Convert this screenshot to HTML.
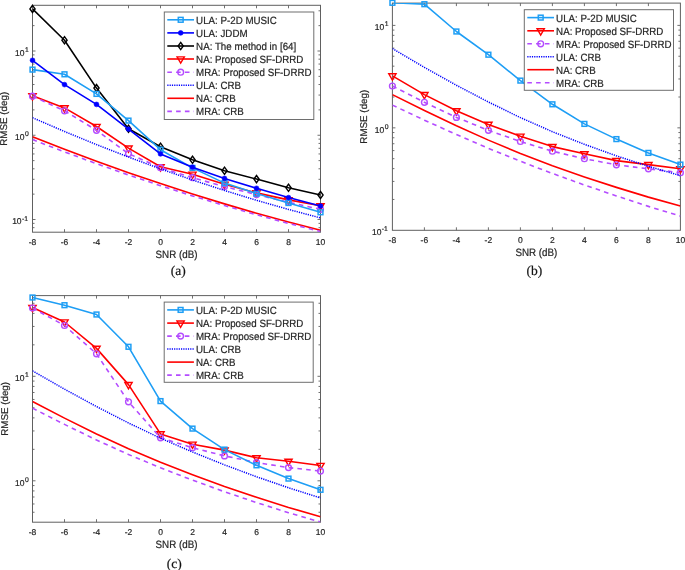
<!DOCTYPE html>
<html><head><meta charset="utf-8"><style>
html,body{margin:0;padding:0;background:#fff;}
svg{display:block;}
text{font-family:"Liberation Sans",Arial,sans-serif;fill:#262626;stroke:#262626;stroke-width:0.2px;text-rendering:geometricPrecision;}
.tk{font-size:8.5px;}
.sup{font-size:6.8px;}
.lab{font-size:9.8px;}
.lg{font-size:9.75px;}
.cap{font-family:"Liberation Serif","Times New Roman",serif;font-size:13.5px;fill:#111;}
</style></head><body>
<svg width="685" height="570" viewBox="0 0 685 570">
<rect width="685" height="570" fill="#fff"/>
<clipPath id="ca"><rect x="32.5" y="5.3" width="288" height="226.9"/></clipPath>
<rect x="32.5" y="5.3" width="288" height="226.9" fill="none" stroke="#606060" stroke-width="1.0"/>
<path d="M64.5 232.2v-3M64.5 5.3v3M96.5 232.2v-3M96.5 5.3v3M128.5 232.2v-3M128.5 5.3v3M160.5 232.2v-3M160.5 5.3v3M192.5 232.2v-3M192.5 5.3v3M224.5 232.2v-3M224.5 5.3v3M256.5 232.2v-3M256.5 5.3v3M288.5 232.2v-3M288.5 5.3v3M32.5 227.66h2M320.5 227.66h-2M32.5 223.36h2M320.5 223.36h-2M32.5 219.5h3M320.5 219.5h-3M32.5 194.14h2M320.5 194.14h-2M32.5 179.3h2M320.5 179.3h-2M32.5 168.78h2M320.5 168.78h-2M32.5 160.61h2M320.5 160.61h-2M32.5 153.94h2M320.5 153.94h-2M32.5 148.3h2M320.5 148.3h-2M32.5 143.41h2M320.5 143.41h-2M32.5 139.11h2M320.5 139.11h-2M32.5 135.25h3M320.5 135.25h-3M32.5 109.89h2M320.5 109.89h-2M32.5 95.05h2M320.5 95.05h-2M32.5 84.53h2M320.5 84.53h-2M32.5 76.36h2M320.5 76.36h-2M32.5 69.69h2M320.5 69.69h-2M32.5 64.05h2M320.5 64.05h-2M32.5 59.16h2M320.5 59.16h-2M32.5 54.86h2M320.5 54.86h-2M32.5 51h3M320.5 51h-3M32.5 25.64h2M320.5 25.64h-2M32.5 10.8h2M320.5 10.8h-2" stroke="#606060" stroke-width="0.9" fill="none"/>
<polyline clip-path="url(#ca)" fill="none" stroke-linejoin="round" points="32.5,95.8 64.5,107.9 96.5,126.5 128.5,148.1 160.5,166.8 192.5,174.2 224.5,184.3 256.5,192.9 288.5,199.9 320.5,205.8" stroke="#ff0000" stroke-width="1.6"/>
<path d="M28.86 93.7L36.14 93.7L32.5 100Z" fill="none" stroke="#ff0000" stroke-width="1.4" stroke-linejoin="miter"/>
<path d="M60.86 105.8L68.14 105.8L64.5 112.1Z" fill="none" stroke="#ff0000" stroke-width="1.4" stroke-linejoin="miter"/>
<path d="M92.86 124.4L100.14 124.4L96.5 130.7Z" fill="none" stroke="#ff0000" stroke-width="1.4" stroke-linejoin="miter"/>
<path d="M124.86 146L132.14 146L128.5 152.3Z" fill="none" stroke="#ff0000" stroke-width="1.4" stroke-linejoin="miter"/>
<path d="M156.86 164.7L164.14 164.7L160.5 171Z" fill="none" stroke="#ff0000" stroke-width="1.4" stroke-linejoin="miter"/>
<path d="M188.86 172.1L196.14 172.1L192.5 178.4Z" fill="none" stroke="#ff0000" stroke-width="1.4" stroke-linejoin="miter"/>
<path d="M220.86 182.2L228.14 182.2L224.5 188.5Z" fill="none" stroke="#ff0000" stroke-width="1.4" stroke-linejoin="miter"/>
<path d="M252.86 190.8L260.14 190.8L256.5 197.1Z" fill="none" stroke="#ff0000" stroke-width="1.4" stroke-linejoin="miter"/>
<path d="M284.86 197.8L292.14 197.8L288.5 204.1Z" fill="none" stroke="#ff0000" stroke-width="1.4" stroke-linejoin="miter"/>
<path d="M316.86 203.7L324.14 203.7L320.5 210Z" fill="none" stroke="#ff0000" stroke-width="1.4" stroke-linejoin="miter"/>
<polyline clip-path="url(#ca)" fill="none" stroke-linejoin="round" points="32.5,96.2 64.5,110.8 96.5,130.3 128.5,153.7 160.5,167.7 192.5,177.7 224.5,186.6 256.5,194.6 288.5,202.3 320.5,209.3" stroke="#b44cff" stroke-width="1.6" stroke-dasharray="4.6 4.2"/>
<circle cx="32.5" cy="96.2" r="2.9" fill="none" stroke="#b44cff" stroke-width="1.4"/>
<circle cx="64.5" cy="110.8" r="2.9" fill="none" stroke="#b44cff" stroke-width="1.4"/>
<circle cx="96.5" cy="130.3" r="2.9" fill="none" stroke="#b44cff" stroke-width="1.4"/>
<circle cx="128.5" cy="153.7" r="2.9" fill="none" stroke="#b44cff" stroke-width="1.4"/>
<circle cx="160.5" cy="167.7" r="2.9" fill="none" stroke="#b44cff" stroke-width="1.4"/>
<circle cx="192.5" cy="177.7" r="2.9" fill="none" stroke="#b44cff" stroke-width="1.4"/>
<circle cx="224.5" cy="186.6" r="2.9" fill="none" stroke="#b44cff" stroke-width="1.4"/>
<circle cx="256.5" cy="194.6" r="2.9" fill="none" stroke="#b44cff" stroke-width="1.4"/>
<circle cx="288.5" cy="202.3" r="2.9" fill="none" stroke="#b44cff" stroke-width="1.4"/>
<circle cx="320.5" cy="209.3" r="2.9" fill="none" stroke="#b44cff" stroke-width="1.4"/>
<polyline clip-path="url(#ca)" fill="none" stroke-linejoin="round" points="32.5,8.9 64.5,40.2 96.5,88.1 128.5,128.7 160.5,146.7 192.5,159.8 224.5,170.7 256.5,179.1 288.5,187.8 320.5,195" stroke="#000000" stroke-width="1.6"/>
<path d="M32.5 5.3L35.1 8.9L32.5 12.5L29.9 8.9Z" fill="none" stroke="#000000" stroke-width="1.4"/>
<path d="M64.5 36.6L67.1 40.2L64.5 43.8L61.9 40.2Z" fill="none" stroke="#000000" stroke-width="1.4"/>
<path d="M96.5 84.5L99.1 88.1L96.5 91.7L93.9 88.1Z" fill="none" stroke="#000000" stroke-width="1.4"/>
<path d="M128.5 125.1L131.1 128.7L128.5 132.3L125.9 128.7Z" fill="none" stroke="#000000" stroke-width="1.4"/>
<path d="M160.5 143.1L163.1 146.7L160.5 150.3L157.9 146.7Z" fill="none" stroke="#000000" stroke-width="1.4"/>
<path d="M192.5 156.2L195.1 159.8L192.5 163.4L189.9 159.8Z" fill="none" stroke="#000000" stroke-width="1.4"/>
<path d="M224.5 167.1L227.1 170.7L224.5 174.3L221.9 170.7Z" fill="none" stroke="#000000" stroke-width="1.4"/>
<path d="M256.5 175.5L259.1 179.1L256.5 182.7L253.9 179.1Z" fill="none" stroke="#000000" stroke-width="1.4"/>
<path d="M288.5 184.2L291.1 187.8L288.5 191.4L285.9 187.8Z" fill="none" stroke="#000000" stroke-width="1.4"/>
<path d="M320.5 191.4L323.1 195L320.5 198.6L317.9 195Z" fill="none" stroke="#000000" stroke-width="1.4"/>
<polyline clip-path="url(#ca)" fill="none" stroke-linejoin="round" points="32.5,69.6 64.5,74.3 96.5,93.9 128.5,120.6 160.5,149.7 192.5,167.9 224.5,183.1 256.5,193.6 288.5,203 320.5,212.3" stroke="#1e9ef5" stroke-width="1.6"/>
<rect x="30.1" y="67.2" width="4.8" height="4.8" fill="none" stroke="#1e9ef5" stroke-width="1.5"/>
<rect x="62.1" y="71.9" width="4.8" height="4.8" fill="none" stroke="#1e9ef5" stroke-width="1.5"/>
<rect x="94.1" y="91.5" width="4.8" height="4.8" fill="none" stroke="#1e9ef5" stroke-width="1.5"/>
<rect x="126.1" y="118.2" width="4.8" height="4.8" fill="none" stroke="#1e9ef5" stroke-width="1.5"/>
<rect x="158.1" y="147.3" width="4.8" height="4.8" fill="none" stroke="#1e9ef5" stroke-width="1.5"/>
<rect x="190.1" y="165.5" width="4.8" height="4.8" fill="none" stroke="#1e9ef5" stroke-width="1.5"/>
<rect x="222.1" y="180.7" width="4.8" height="4.8" fill="none" stroke="#1e9ef5" stroke-width="1.5"/>
<rect x="254.1" y="191.2" width="4.8" height="4.8" fill="none" stroke="#1e9ef5" stroke-width="1.5"/>
<rect x="286.1" y="200.6" width="4.8" height="4.8" fill="none" stroke="#1e9ef5" stroke-width="1.5"/>
<rect x="318.1" y="209.9" width="4.8" height="4.8" fill="none" stroke="#1e9ef5" stroke-width="1.5"/>
<polyline clip-path="url(#ca)" fill="none" stroke-linejoin="round" points="32.5,60.3 64.5,84.6 96.5,104.4 128.5,129.2 160.5,153.9 192.5,167.2 224.5,178.4 256.5,188.3 288.5,197.6 320.5,206" stroke="#0000ff" stroke-width="1.6"/>
<circle cx="32.5" cy="60.3" r="2.4" fill="#0000ff" stroke="#0000ff" stroke-width="0.6"/>
<circle cx="64.5" cy="84.6" r="2.4" fill="#0000ff" stroke="#0000ff" stroke-width="0.6"/>
<circle cx="96.5" cy="104.4" r="2.4" fill="#0000ff" stroke="#0000ff" stroke-width="0.6"/>
<circle cx="128.5" cy="129.2" r="2.4" fill="#0000ff" stroke="#0000ff" stroke-width="0.6"/>
<circle cx="160.5" cy="153.9" r="2.4" fill="#0000ff" stroke="#0000ff" stroke-width="0.6"/>
<circle cx="192.5" cy="167.2" r="2.4" fill="#0000ff" stroke="#0000ff" stroke-width="0.6"/>
<circle cx="224.5" cy="178.4" r="2.4" fill="#0000ff" stroke="#0000ff" stroke-width="0.6"/>
<circle cx="256.5" cy="188.3" r="2.4" fill="#0000ff" stroke="#0000ff" stroke-width="0.6"/>
<circle cx="288.5" cy="197.6" r="2.4" fill="#0000ff" stroke="#0000ff" stroke-width="0.6"/>
<circle cx="320.5" cy="206" r="2.4" fill="#0000ff" stroke="#0000ff" stroke-width="0.6"/>
<polyline clip-path="url(#ca)" fill="none" stroke-linejoin="round" points="32.5,117.7 64.5,131.49 96.5,144.61 128.5,157.07 160.5,168.87 192.5,180.01 224.5,190.48 256.5,200.29 288.5,209.43 320.5,217.91" stroke="#0000ff" stroke-width="1.5" stroke-dasharray="1.2 1.1"/>
<polyline clip-path="url(#ca)" fill="none" stroke-linejoin="round" points="32.5,136.8 64.5,149.29 96.5,161.25 128.5,172.69 160.5,183.61 192.5,194 224.5,203.87 256.5,213.21 288.5,222.03 320.5,230.33" stroke="#ff0000" stroke-width="1.6"/>
<polyline clip-path="url(#ca)" fill="none" stroke-linejoin="round" points="32.5,139.6 64.5,151.91 96.5,163.69 128.5,174.95 160.5,185.69 192.5,195.9 224.5,205.59 256.5,214.75 288.5,223.39 320.5,231.51" stroke="#b44cff" stroke-width="1.6" stroke-dasharray="4.6 4.2"/>
<text x="32.5" y="244.8" text-anchor="middle" class="tk">-8</text>
<text x="64.5" y="244.8" text-anchor="middle" class="tk">-6</text>
<text x="96.5" y="244.8" text-anchor="middle" class="tk">-4</text>
<text x="128.5" y="244.8" text-anchor="middle" class="tk">-2</text>
<text x="160.5" y="244.8" text-anchor="middle" class="tk">0</text>
<text x="192.5" y="244.8" text-anchor="middle" class="tk">2</text>
<text x="224.5" y="244.8" text-anchor="middle" class="tk">4</text>
<text x="256.5" y="244.8" text-anchor="middle" class="tk">6</text>
<text x="288.5" y="244.8" text-anchor="middle" class="tk">8</text>
<text x="320.5" y="244.8" text-anchor="middle" class="tk">10</text>
<text x="24.4" y="56" text-anchor="end" class="tk">10</text>
<text x="24.9" y="51.8" class="sup">1</text>
<text x="24.4" y="140.25" text-anchor="end" class="tk">10</text>
<text x="24.9" y="136.05" class="sup">0</text>
<text x="21.6" y="224.3" text-anchor="end" class="tk">10</text>
<text x="21.9" y="220.6" class="sup">-1</text>
<text transform="translate(176.5,257.8) scale(1,1.08)" text-anchor="middle" class="lab">SNR (dB)</text>
<text transform="translate(7.2,118.75) rotate(-90)" text-anchor="middle" class="lab">RMSE (deg)</text>
<text x="178.35" y="274.5" text-anchor="middle" class="cap">(a)</text>
<rect x="164.3" y="12" width="149.5" height="107.5" fill="#fff" stroke="#6e6e6e" stroke-width="1.0"/>
<line x1="167.3" y1="19.8" x2="194" y2="19.8" stroke="#1e9ef5" stroke-width="1.6" fill="none"/>
<rect x="178.3" y="17.4" width="4.8" height="4.8" fill="none" stroke="#1e9ef5" stroke-width="1.5"/>
<text transform="translate(196.1,23.75) scale(1,1.08)" class="lg">ULA: P-2D MUSIC</text>
<line x1="167.3" y1="32.9" x2="194" y2="32.9" stroke="#0000ff" stroke-width="1.6" fill="none"/>
<circle cx="180.7" cy="32.9" r="2.4" fill="#0000ff" stroke="#0000ff" stroke-width="0.6"/>
<text transform="translate(196.1,36.85) scale(1,1.08)" class="lg">ULA: JDDM</text>
<line x1="167.3" y1="46" x2="194" y2="46" stroke="#000000" stroke-width="1.6" fill="none"/>
<path d="M180.7 42.4L183.3 46L180.7 49.6L178.1 46Z" fill="none" stroke="#000000" stroke-width="1.4"/>
<text transform="translate(196.1,49.95) scale(1,1.08)" class="lg">NA: The method in [64]</text>
<line x1="167.3" y1="59" x2="194" y2="59" stroke="#ff0000" stroke-width="1.6" fill="none"/>
<path d="M177.06 56.9L184.34 56.9L180.7 63.2Z" fill="none" stroke="#ff0000" stroke-width="1.4" stroke-linejoin="miter"/>
<text transform="translate(196.1,62.95) scale(1,1.08)" class="lg">NA: Proposed SF-DRRD</text>
<line x1="167.3" y1="72.2" x2="194" y2="72.2" stroke="#b44cff" stroke-width="1.6" stroke-dasharray="4.6 4.2" fill="none"/>
<circle cx="180.7" cy="72.2" r="2.9" fill="none" stroke="#b44cff" stroke-width="1.4"/>
<text transform="translate(196.1,76.15) scale(1,1.08)" class="lg">MRA: Proposed SF-DRRD</text>
<line x1="167.3" y1="85.2" x2="194" y2="85.2" stroke="#0000ff" stroke-width="1.5" stroke-dasharray="1.2 1.1" fill="none"/>

<text transform="translate(196.1,89.15) scale(1,1.08)" class="lg">ULA: CRB</text>
<line x1="167.3" y1="98.3" x2="194" y2="98.3" stroke="#ff0000" stroke-width="1.6" fill="none"/>

<text transform="translate(196.1,102.25) scale(1,1.08)" class="lg">NA: CRB</text>
<line x1="167.3" y1="111.4" x2="194" y2="111.4" stroke="#b44cff" stroke-width="1.6" stroke-dasharray="4.6 4.2" fill="none"/>

<text transform="translate(196.1,115.35) scale(1,1.08)" class="lg">MRA: CRB</text>
<clipPath id="cb"><rect x="392.4" y="3.1" width="288" height="227.2"/></clipPath>
<rect x="392.4" y="3.1" width="288" height="227.2" fill="none" stroke="#606060" stroke-width="1.0"/>
<path d="M424.4 230.3v-3M424.4 3.1v3M456.4 230.3v-3M456.4 3.1v3M488.4 230.3v-3M488.4 3.1v3M520.4 230.3v-3M520.4 3.1v3M552.4 230.3v-3M552.4 3.1v3M584.4 230.3v-3M584.4 3.1v3M616.4 230.3v-3M616.4 3.1v3M648.4 230.3v-3M648.4 3.1v3M392.4 199.46h2M680.4 199.46h-2M392.4 181.42h2M680.4 181.42h-2M392.4 168.62h2M680.4 168.62h-2M392.4 158.69h2M680.4 158.69h-2M392.4 150.58h2M680.4 150.58h-2M392.4 143.72h2M680.4 143.72h-2M392.4 137.78h2M680.4 137.78h-2M392.4 132.54h2M680.4 132.54h-2M392.4 127.85h3M680.4 127.85h-3M392.4 97.01h2M680.4 97.01h-2M392.4 78.97h2M680.4 78.97h-2M392.4 66.17h2M680.4 66.17h-2M392.4 56.24h2M680.4 56.24h-2M392.4 48.13h2M680.4 48.13h-2M392.4 41.27h2M680.4 41.27h-2M392.4 35.33h2M680.4 35.33h-2M392.4 30.09h2M680.4 30.09h-2M392.4 25.4h3M680.4 25.4h-3" stroke="#606060" stroke-width="0.9" fill="none"/>
<polyline clip-path="url(#cb)" fill="none" stroke-linejoin="round" points="392.4,75.9 424.4,94.6 456.4,110.8 488.4,124.4 520.4,136.2 552.4,146.6 584.4,153.8 616.4,160.6 648.4,164.6 680.4,168.8" stroke="#ff0000" stroke-width="1.6"/>
<path d="M388.76 73.8L396.04 73.8L392.4 80.1Z" fill="none" stroke="#ff0000" stroke-width="1.4" stroke-linejoin="miter"/>
<path d="M420.76 92.5L428.04 92.5L424.4 98.8Z" fill="none" stroke="#ff0000" stroke-width="1.4" stroke-linejoin="miter"/>
<path d="M452.76 108.7L460.04 108.7L456.4 115Z" fill="none" stroke="#ff0000" stroke-width="1.4" stroke-linejoin="miter"/>
<path d="M484.76 122.3L492.04 122.3L488.4 128.6Z" fill="none" stroke="#ff0000" stroke-width="1.4" stroke-linejoin="miter"/>
<path d="M516.76 134.1L524.04 134.1L520.4 140.4Z" fill="none" stroke="#ff0000" stroke-width="1.4" stroke-linejoin="miter"/>
<path d="M548.76 144.5L556.04 144.5L552.4 150.8Z" fill="none" stroke="#ff0000" stroke-width="1.4" stroke-linejoin="miter"/>
<path d="M580.76 151.7L588.04 151.7L584.4 158Z" fill="none" stroke="#ff0000" stroke-width="1.4" stroke-linejoin="miter"/>
<path d="M612.76 158.5L620.04 158.5L616.4 164.8Z" fill="none" stroke="#ff0000" stroke-width="1.4" stroke-linejoin="miter"/>
<path d="M644.76 162.5L652.04 162.5L648.4 168.8Z" fill="none" stroke="#ff0000" stroke-width="1.4" stroke-linejoin="miter"/>
<path d="M676.76 166.7L684.04 166.7L680.4 173Z" fill="none" stroke="#ff0000" stroke-width="1.4" stroke-linejoin="miter"/>
<polyline clip-path="url(#cb)" fill="none" stroke-linejoin="round" points="392.4,86 424.4,102.3 456.4,117.4 488.4,130.3 520.4,141.5 552.4,151.2 584.4,158.7 616.4,164.8 648.4,168.8 680.4,172.7" stroke="#b44cff" stroke-width="1.6" stroke-dasharray="4.6 4.2"/>
<circle cx="392.4" cy="86" r="2.9" fill="none" stroke="#b44cff" stroke-width="1.4"/>
<circle cx="424.4" cy="102.3" r="2.9" fill="none" stroke="#b44cff" stroke-width="1.4"/>
<circle cx="456.4" cy="117.4" r="2.9" fill="none" stroke="#b44cff" stroke-width="1.4"/>
<circle cx="488.4" cy="130.3" r="2.9" fill="none" stroke="#b44cff" stroke-width="1.4"/>
<circle cx="520.4" cy="141.5" r="2.9" fill="none" stroke="#b44cff" stroke-width="1.4"/>
<circle cx="552.4" cy="151.2" r="2.9" fill="none" stroke="#b44cff" stroke-width="1.4"/>
<circle cx="584.4" cy="158.7" r="2.9" fill="none" stroke="#b44cff" stroke-width="1.4"/>
<circle cx="616.4" cy="164.8" r="2.9" fill="none" stroke="#b44cff" stroke-width="1.4"/>
<circle cx="648.4" cy="168.8" r="2.9" fill="none" stroke="#b44cff" stroke-width="1.4"/>
<circle cx="680.4" cy="172.7" r="2.9" fill="none" stroke="#b44cff" stroke-width="1.4"/>
<polyline clip-path="url(#cb)" fill="none" stroke-linejoin="round" points="392.4,2.8 424.4,4.2 456.4,31.5 488.4,54.7 520.4,80.6 552.4,104.3 584.4,123.9 616.4,139.1 648.4,152.9 680.4,164.6" stroke="#1e9ef5" stroke-width="1.6"/>
<rect x="390" y="0.4" width="4.8" height="4.8" fill="none" stroke="#1e9ef5" stroke-width="1.5"/>
<rect x="422" y="1.8" width="4.8" height="4.8" fill="none" stroke="#1e9ef5" stroke-width="1.5"/>
<rect x="454" y="29.1" width="4.8" height="4.8" fill="none" stroke="#1e9ef5" stroke-width="1.5"/>
<rect x="486" y="52.3" width="4.8" height="4.8" fill="none" stroke="#1e9ef5" stroke-width="1.5"/>
<rect x="518" y="78.2" width="4.8" height="4.8" fill="none" stroke="#1e9ef5" stroke-width="1.5"/>
<rect x="550" y="101.9" width="4.8" height="4.8" fill="none" stroke="#1e9ef5" stroke-width="1.5"/>
<rect x="582" y="121.5" width="4.8" height="4.8" fill="none" stroke="#1e9ef5" stroke-width="1.5"/>
<rect x="614" y="136.7" width="4.8" height="4.8" fill="none" stroke="#1e9ef5" stroke-width="1.5"/>
<rect x="646" y="150.5" width="4.8" height="4.8" fill="none" stroke="#1e9ef5" stroke-width="1.5"/>
<rect x="678" y="162.2" width="4.8" height="4.8" fill="none" stroke="#1e9ef5" stroke-width="1.5"/>
<polyline clip-path="url(#cb)" fill="none" stroke-linejoin="round" points="392.4,48.56 424.4,67.39 456.4,85.24 488.4,102.01 520.4,117.59 552.4,131.69 584.4,144.31 616.4,155.84 648.4,166.29 680.4,175.66" stroke="#0000ff" stroke-width="1.5" stroke-dasharray="1.2 1.1"/>
<polyline clip-path="url(#cb)" fill="none" stroke-linejoin="round" points="392.4,94.61 424.4,110.58 456.4,125.79 488.4,140.13 520.4,153.41 552.4,165.63 584.4,176.89 616.4,187.38 648.4,197.11 680.4,206.07" stroke="#ff0000" stroke-width="1.6"/>
<polyline clip-path="url(#cb)" fill="none" stroke-linejoin="round" points="392.4,105.12 424.4,120.17 456.4,134.56 488.4,148.29 520.4,161.25 552.4,173.45 584.4,184.99 616.4,195.96 648.4,206.38 680.4,216.12" stroke="#b44cff" stroke-width="1.6" stroke-dasharray="4.6 4.2"/>
<text x="392.4" y="242.9" text-anchor="middle" class="tk">-8</text>
<text x="424.4" y="242.9" text-anchor="middle" class="tk">-6</text>
<text x="456.4" y="242.9" text-anchor="middle" class="tk">-4</text>
<text x="488.4" y="242.9" text-anchor="middle" class="tk">-2</text>
<text x="520.4" y="242.9" text-anchor="middle" class="tk">0</text>
<text x="552.4" y="242.9" text-anchor="middle" class="tk">2</text>
<text x="584.4" y="242.9" text-anchor="middle" class="tk">4</text>
<text x="616.4" y="242.9" text-anchor="middle" class="tk">6</text>
<text x="648.4" y="242.9" text-anchor="middle" class="tk">8</text>
<text x="680.4" y="242.9" text-anchor="middle" class="tk">10</text>
<text x="384.3" y="30.4" text-anchor="end" class="tk">10</text>
<text x="384.8" y="26.2" class="sup">1</text>
<text x="384.3" y="132.85" text-anchor="end" class="tk">10</text>
<text x="384.8" y="128.65" class="sup">0</text>
<text x="381.5" y="235.1" text-anchor="end" class="tk">10</text>
<text x="381.8" y="231.4" class="sup">-1</text>
<text transform="translate(536.4,255.9) scale(1,1.08)" text-anchor="middle" class="lab">SNR (dB)</text>
<text transform="translate(367.1,116.7) rotate(-90)" text-anchor="middle" class="lab">RMSE (deg)</text>
<text x="534.3" y="275" text-anchor="middle" class="cap">(b)</text>
<rect x="524.3" y="9.7" width="149.2" height="80.6" fill="#fff" stroke="#6e6e6e" stroke-width="1.0"/>
<line x1="527.3" y1="17.6" x2="554" y2="17.6" stroke="#1e9ef5" stroke-width="1.6" fill="none"/>
<rect x="538.3" y="15.2" width="4.8" height="4.8" fill="none" stroke="#1e9ef5" stroke-width="1.5"/>
<text transform="translate(556.1,21.55) scale(1,1.08)" class="lg">ULA: P-2D MUSIC</text>
<line x1="527.3" y1="30.8" x2="554" y2="30.8" stroke="#ff0000" stroke-width="1.6" fill="none"/>
<path d="M537.06 28.7L544.34 28.7L540.7 35Z" fill="none" stroke="#ff0000" stroke-width="1.4" stroke-linejoin="miter"/>
<text transform="translate(556.1,34.75) scale(1,1.08)" class="lg">NA: Proposed SF-DRRD</text>
<line x1="527.3" y1="43.8" x2="554" y2="43.8" stroke="#b44cff" stroke-width="1.6" stroke-dasharray="4.6 4.2" fill="none"/>
<circle cx="540.7" cy="43.8" r="2.9" fill="none" stroke="#b44cff" stroke-width="1.4"/>
<text transform="translate(556.1,47.75) scale(1,1.08)" class="lg">MRA: Proposed SF-DRRD</text>
<line x1="527.3" y1="56.8" x2="554" y2="56.8" stroke="#0000ff" stroke-width="1.5" stroke-dasharray="1.2 1.1" fill="none"/>

<text transform="translate(556.1,60.75) scale(1,1.08)" class="lg">ULA: CRB</text>
<line x1="527.3" y1="69.7" x2="554" y2="69.7" stroke="#ff0000" stroke-width="1.6" fill="none"/>

<text transform="translate(556.1,73.65) scale(1,1.08)" class="lg">NA: CRB</text>
<line x1="527.3" y1="82.7" x2="554" y2="82.7" stroke="#b44cff" stroke-width="1.6" stroke-dasharray="4.6 4.2" fill="none"/>

<text transform="translate(556.1,86.65) scale(1,1.08)" class="lg">MRA: CRB</text>
<clipPath id="cc"><rect x="32.5" y="295.6" width="288" height="226.6"/></clipPath>
<rect x="32.5" y="295.6" width="288" height="226.6" fill="none" stroke="#606060" stroke-width="1.0"/>
<path d="M64.5 522.2v-3M64.5 295.6v3M96.5 522.2v-3M96.5 295.6v3M128.5 522.2v-3M128.5 295.6v3M160.5 522.2v-3M160.5 295.6v3M192.5 522.2v-3M192.5 295.6v3M224.5 522.2v-3M224.5 295.6v3M256.5 522.2v-3M256.5 295.6v3M288.5 522.2v-3M288.5 295.6v3M32.5 512.26h2M320.5 512.26h-2M32.5 503.98h2M320.5 503.98h-2M32.5 496.99h2M320.5 496.99h-2M32.5 490.93h2M320.5 490.93h-2M32.5 485.58h2M320.5 485.58h-2M32.5 480.8h3M320.5 480.8h-3M32.5 449.34h2M320.5 449.34h-2M32.5 430.94h2M320.5 430.94h-2M32.5 417.88h2M320.5 417.88h-2M32.5 407.76h2M320.5 407.76h-2M32.5 399.48h2M320.5 399.48h-2M32.5 392.49h2M320.5 392.49h-2M32.5 386.43h2M320.5 386.43h-2M32.5 381.08h2M320.5 381.08h-2M32.5 376.3h3M320.5 376.3h-3M32.5 344.84h2M320.5 344.84h-2M32.5 326.44h2M320.5 326.44h-2M32.5 313.38h2M320.5 313.38h-2M32.5 303.26h2M320.5 303.26h-2" stroke="#606060" stroke-width="0.9" fill="none"/>
<polyline clip-path="url(#cc)" fill="none" stroke-linejoin="round" points="32.5,307.5 64.5,322 96.5,348.4 128.5,384.6 160.5,433.9 192.5,444.2 224.5,450.1 256.5,457.8 288.5,461.3 320.5,465.5" stroke="#ff0000" stroke-width="1.6"/>
<path d="M28.86 305.4L36.14 305.4L32.5 311.7Z" fill="none" stroke="#ff0000" stroke-width="1.4" stroke-linejoin="miter"/>
<path d="M60.86 319.9L68.14 319.9L64.5 326.2Z" fill="none" stroke="#ff0000" stroke-width="1.4" stroke-linejoin="miter"/>
<path d="M92.86 346.3L100.14 346.3L96.5 352.6Z" fill="none" stroke="#ff0000" stroke-width="1.4" stroke-linejoin="miter"/>
<path d="M124.86 382.5L132.14 382.5L128.5 388.8Z" fill="none" stroke="#ff0000" stroke-width="1.4" stroke-linejoin="miter"/>
<path d="M156.86 431.8L164.14 431.8L160.5 438.1Z" fill="none" stroke="#ff0000" stroke-width="1.4" stroke-linejoin="miter"/>
<path d="M188.86 442.1L196.14 442.1L192.5 448.4Z" fill="none" stroke="#ff0000" stroke-width="1.4" stroke-linejoin="miter"/>
<path d="M220.86 448L228.14 448L224.5 454.3Z" fill="none" stroke="#ff0000" stroke-width="1.4" stroke-linejoin="miter"/>
<path d="M252.86 455.7L260.14 455.7L256.5 462Z" fill="none" stroke="#ff0000" stroke-width="1.4" stroke-linejoin="miter"/>
<path d="M284.86 459.2L292.14 459.2L288.5 465.5Z" fill="none" stroke="#ff0000" stroke-width="1.4" stroke-linejoin="miter"/>
<path d="M316.86 463.4L324.14 463.4L320.5 469.7Z" fill="none" stroke="#ff0000" stroke-width="1.4" stroke-linejoin="miter"/>
<polyline clip-path="url(#cc)" fill="none" stroke-linejoin="round" points="32.5,308 64.5,325.5 96.5,353.8 128.5,401.8 160.5,437.8 192.5,447.7 224.5,455.9 256.5,462.5 288.5,467.6 320.5,471.1" stroke="#b44cff" stroke-width="1.6" stroke-dasharray="4.6 4.2"/>
<circle cx="32.5" cy="308" r="2.9" fill="none" stroke="#b44cff" stroke-width="1.4"/>
<circle cx="64.5" cy="325.5" r="2.9" fill="none" stroke="#b44cff" stroke-width="1.4"/>
<circle cx="96.5" cy="353.8" r="2.9" fill="none" stroke="#b44cff" stroke-width="1.4"/>
<circle cx="128.5" cy="401.8" r="2.9" fill="none" stroke="#b44cff" stroke-width="1.4"/>
<circle cx="160.5" cy="437.8" r="2.9" fill="none" stroke="#b44cff" stroke-width="1.4"/>
<circle cx="192.5" cy="447.7" r="2.9" fill="none" stroke="#b44cff" stroke-width="1.4"/>
<circle cx="224.5" cy="455.9" r="2.9" fill="none" stroke="#b44cff" stroke-width="1.4"/>
<circle cx="256.5" cy="462.5" r="2.9" fill="none" stroke="#b44cff" stroke-width="1.4"/>
<circle cx="288.5" cy="467.6" r="2.9" fill="none" stroke="#b44cff" stroke-width="1.4"/>
<circle cx="320.5" cy="471.1" r="2.9" fill="none" stroke="#b44cff" stroke-width="1.4"/>
<polyline clip-path="url(#cc)" fill="none" stroke-linejoin="round" points="32.5,297.5 64.5,305.2 96.5,314.5 128.5,346.8 160.5,401.1 192.5,428.6 224.5,449.6 256.5,465.3 288.5,478.6 320.5,489.8" stroke="#1e9ef5" stroke-width="1.6"/>
<rect x="30.1" y="295.1" width="4.8" height="4.8" fill="none" stroke="#1e9ef5" stroke-width="1.5"/>
<rect x="62.1" y="302.8" width="4.8" height="4.8" fill="none" stroke="#1e9ef5" stroke-width="1.5"/>
<rect x="94.1" y="312.1" width="4.8" height="4.8" fill="none" stroke="#1e9ef5" stroke-width="1.5"/>
<rect x="126.1" y="344.4" width="4.8" height="4.8" fill="none" stroke="#1e9ef5" stroke-width="1.5"/>
<rect x="158.1" y="398.7" width="4.8" height="4.8" fill="none" stroke="#1e9ef5" stroke-width="1.5"/>
<rect x="190.1" y="426.2" width="4.8" height="4.8" fill="none" stroke="#1e9ef5" stroke-width="1.5"/>
<rect x="222.1" y="447.2" width="4.8" height="4.8" fill="none" stroke="#1e9ef5" stroke-width="1.5"/>
<rect x="254.1" y="462.9" width="4.8" height="4.8" fill="none" stroke="#1e9ef5" stroke-width="1.5"/>
<rect x="286.1" y="476.2" width="4.8" height="4.8" fill="none" stroke="#1e9ef5" stroke-width="1.5"/>
<rect x="318.1" y="487.4" width="4.8" height="4.8" fill="none" stroke="#1e9ef5" stroke-width="1.5"/>
<polyline clip-path="url(#cc)" fill="none" stroke-linejoin="round" points="32.5,370.85 64.5,389.15 96.5,406.56 128.5,422.97 160.5,438.19 192.5,452.01 224.5,464.83 256.5,476.76 288.5,487.79 320.5,497.92" stroke="#0000ff" stroke-width="1.5" stroke-dasharray="1.2 1.1"/>
<polyline clip-path="url(#cc)" fill="none" stroke-linejoin="round" points="32.5,401.54 64.5,418.14 96.5,433.97 128.5,448.72 160.5,462.19 192.5,474.69 224.5,486.4 256.5,497.25 288.5,507.41 320.5,516.69" stroke="#ff0000" stroke-width="1.6"/>
<polyline clip-path="url(#cc)" fill="none" stroke-linejoin="round" points="32.5,408.1 64.5,424.41 96.5,439.98 128.5,454.51 160.5,467.8 192.5,480.16 224.5,491.78 256.5,502.56 288.5,512.7 320.5,522" stroke="#b44cff" stroke-width="1.6" stroke-dasharray="4.6 4.2"/>
<text x="32.5" y="534.8" text-anchor="middle" class="tk">-8</text>
<text x="64.5" y="534.8" text-anchor="middle" class="tk">-6</text>
<text x="96.5" y="534.8" text-anchor="middle" class="tk">-4</text>
<text x="128.5" y="534.8" text-anchor="middle" class="tk">-2</text>
<text x="160.5" y="534.8" text-anchor="middle" class="tk">0</text>
<text x="192.5" y="534.8" text-anchor="middle" class="tk">2</text>
<text x="224.5" y="534.8" text-anchor="middle" class="tk">4</text>
<text x="256.5" y="534.8" text-anchor="middle" class="tk">6</text>
<text x="288.5" y="534.8" text-anchor="middle" class="tk">8</text>
<text x="320.5" y="534.8" text-anchor="middle" class="tk">10</text>
<text x="24.4" y="381.3" text-anchor="end" class="tk">10</text>
<text x="24.9" y="377.1" class="sup">1</text>
<text x="24.4" y="485.8" text-anchor="end" class="tk">10</text>
<text x="24.9" y="481.6" class="sup">0</text>
<text transform="translate(176.5,547.8) scale(1,1.08)" text-anchor="middle" class="lab">SNR (dB)</text>
<text transform="translate(8.4,408.9) rotate(-90)" text-anchor="middle" class="lab">RMSE (deg)</text>
<text x="174.35" y="567.6" text-anchor="middle" class="cap">(c)</text>
<rect x="164.2" y="302.1" width="149" height="80.2" fill="#fff" stroke="#6e6e6e" stroke-width="1.0"/>
<line x1="167.2" y1="309.9" x2="193.9" y2="309.9" stroke="#1e9ef5" stroke-width="1.6" fill="none"/>
<rect x="178.2" y="307.5" width="4.8" height="4.8" fill="none" stroke="#1e9ef5" stroke-width="1.5"/>
<text transform="translate(196,313.85) scale(1,1.08)" class="lg">ULA: P-2D MUSIC</text>
<line x1="167.2" y1="323.1" x2="193.9" y2="323.1" stroke="#ff0000" stroke-width="1.6" fill="none"/>
<path d="M176.96 321L184.24 321L180.6 327.3Z" fill="none" stroke="#ff0000" stroke-width="1.4" stroke-linejoin="miter"/>
<text transform="translate(196,327.05) scale(1,1.08)" class="lg">NA: Proposed SF-DRRD</text>
<line x1="167.2" y1="336.1" x2="193.9" y2="336.1" stroke="#b44cff" stroke-width="1.6" stroke-dasharray="4.6 4.2" fill="none"/>
<circle cx="180.6" cy="336.1" r="2.9" fill="none" stroke="#b44cff" stroke-width="1.4"/>
<text transform="translate(196,340.05) scale(1,1.08)" class="lg">MRA: Proposed SF-DRRD</text>
<line x1="167.2" y1="349.1" x2="193.9" y2="349.1" stroke="#0000ff" stroke-width="1.5" stroke-dasharray="1.2 1.1" fill="none"/>

<text transform="translate(196,353.05) scale(1,1.08)" class="lg">ULA: CRB</text>
<line x1="167.2" y1="362.1" x2="193.9" y2="362.1" stroke="#ff0000" stroke-width="1.6" fill="none"/>

<text transform="translate(196,366.05) scale(1,1.08)" class="lg">NA: CRB</text>
<line x1="167.2" y1="375.1" x2="193.9" y2="375.1" stroke="#b44cff" stroke-width="1.6" stroke-dasharray="4.6 4.2" fill="none"/>

<text transform="translate(196,379.05) scale(1,1.08)" class="lg">MRA: CRB</text>
</svg>
</body></html>
